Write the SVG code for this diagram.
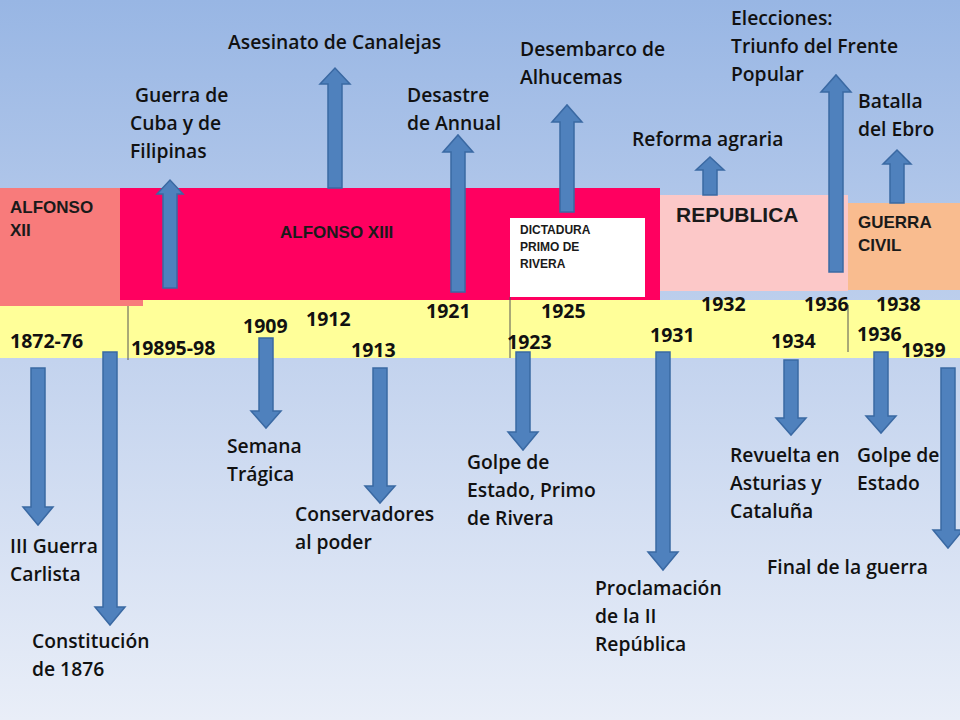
<svg xmlns="http://www.w3.org/2000/svg" width="960" height="720" viewBox="0 0 960 720">
<defs>
<linearGradient id="bg" x1="0" y1="0" x2="0" y2="1"><stop offset="0" stop-color="#98b6e4"/><stop offset="0.5" stop-color="#c3d3ee"/><stop offset="1" stop-color="#e9eef8"/></linearGradient>
</defs>
<style>
.ar{fill:#4f81bd;stroke:#3a69a3;stroke-width:1.5}
.ev{font-family:"Open Sans",sans-serif;font-size:19.3px;font-weight:600;fill:#111}
.yr{font-family:"Open Sans",sans-serif;font-size:19.5px;font-weight:700;fill:#111}
.bd{font-family:"Liberation Sans",Arial,sans-serif;font-weight:700;fill:#1a1a1a}
.ln{stroke:#555;stroke-width:1}
</style>
<rect width="960" height="720" fill="url(#bg)"/>
<g id="bands">
<rect x="0" y="300" width="960" height="58" fill="#ffff99"/>
<rect x="0" y="188" width="143" height="118" fill="#f87b7b"/>
<rect x="120" y="188" width="540" height="112" fill="#ff0060"/>
<rect x="510" y="218" width="135" height="79" fill="#ffffff"/>
<rect x="660" y="195" width="188" height="96" fill="#fcc8c8"/>
<rect x="848" y="203" width="112" height="87" fill="#f9bc8f"/>
<line class="ln" x1="128" y1="306" x2="128" y2="360"/>
<line class="ln" x1="510" y1="297" x2="510" y2="358"/>
<line class="ln" x1="848" y1="305" x2="848" y2="352"/>
<text class="bd" x="10" y="213" font-size="17">ALFONSO</text>
<text class="bd" x="10" y="236" font-size="17">XII</text>
<text class="bd" x="280" y="238" font-size="17">ALFONSO  XIII</text>
<text class="bd" x="520" y="234" font-size="12">DICTADURA</text>
<text class="bd" x="520" y="251" font-size="12">PRIMO DE</text>
<text class="bd" x="520" y="268" font-size="12">RIVERA</text>
<text class="bd" x="676" y="222" font-size="21">REPUBLICA</text>
<text class="bd" x="858" y="228" font-size="17">GUERRA</text>
<text class="bd" x="858" y="251" font-size="17">CIVIL</text>
</g>
<g id="years">
<text class="yr" x="10" y="348">1872-76</text>
<text class="yr" x="131" y="355">19895-98</text>
<text class="yr" x="243" y="333">1909</text>
<text class="yr" x="306" y="326">1912</text>
<text class="yr" x="351" y="357">1913</text>
<text class="yr" x="426" y="318">1921</text>
<text class="yr" x="507" y="349">1923</text>
<text class="yr" x="541" y="318">1925</text>
<text class="yr" x="650" y="342">1931</text>
<text class="yr" x="701" y="311">1932</text>
<text class="yr" x="771" y="348">1934</text>
<text class="yr" x="804" y="311">1936</text>
<text class="yr" x="876" y="311">1938</text>
<text class="yr" x="857" y="341">1936</text>
<text class="yr" x="901" y="357">1939</text>
</g>
<g id="connectors">
<polygon class="ar" points="163,288 163,194 157,194 170,180 183,194 177,194 177,288"/>
<polygon class="ar" points="328,188 328,84 320,84 335,68 350,84 342,84 342,188"/>
<polygon class="ar" points="451,292 451,152 443,152 458,135 473,152 465,152 465,292"/>
<polygon class="ar" points="560,212 560,122 552,122 567,105 582,122 574,122 574,212"/>
<polygon class="ar" points="703,195 703,170 696,170 710,157 724,170 717,170 717,195"/>
<polygon class="ar" points="829,272 829,92 821,92 836,75 851,92 843,92 843,272"/>
<polygon class="ar" points="890,203 890,164 883,164 897,150 911,164 904,164 904,203"/>
<polygon class="ar" points="31,368 31,507 23,507 38,525 53,507 45,507 45,368"/>
<polygon class="ar" points="103,352 103,607 95,607 110,625 125,607 117,607 117,352"/>
<polygon class="ar" points="259,338 259,411 251,411 266,428 281,411 273,411 273,338"/>
<polygon class="ar" points="373,368 373,486 365,486 380,503 395,486 387,486 387,368"/>
<polygon class="ar" points="516,352 516,432 508,432 523,450 538,432 530,432 530,352"/>
<polygon class="ar" points="656,352 656,552 648,552 663,570 678,552 670,552 670,352"/>
<polygon class="ar" points="784,360 784,418 776,418 791,435 806,418 798,418 798,360"/>
<polygon class="ar" points="874,352 874,416 866,416 881,433 896,416 888,416 888,352"/>
<polygon class="ar" points="941,368 941,530 933,530 948,548 963,530 955,530 955,368"/>
</g>
<g id="labels">
<text class="ev" x="228" y="49">Asesinato de Canalejas</text>
<text class="ev" x="135" y="102">Guerra de</text>
<text class="ev" x="130" y="130">Cuba y de</text>
<text class="ev" x="130" y="158">Filipinas</text>
<text class="ev" x="407" y="102">Desastre</text>
<text class="ev" x="407" y="130">de Annual</text>
<text class="ev" x="520" y="56">Desembarco de</text>
<text class="ev" x="520" y="84">Alhucemas</text>
<text class="ev" x="632" y="146">Reforma agraria</text>
<text class="ev" x="731" y="25">Elecciones:</text>
<text class="ev" x="731" y="53">Triunfo del Frente</text>
<text class="ev" x="731" y="81">Popular</text>
<text class="ev" x="858" y="108">Batalla</text>
<text class="ev" x="858" y="136">del Ebro</text>
<text class="ev" x="10" y="553">III Guerra</text>
<text class="ev" x="10" y="581">Carlista</text>
<text class="ev" x="32" y="648">Constitución</text>
<text class="ev" x="32" y="676">de 1876</text>
<text class="ev" x="227" y="453">Semana</text>
<text class="ev" x="227" y="481">Trágica</text>
<text class="ev" x="295" y="521">Conservadores</text>
<text class="ev" x="295" y="549">al poder</text>
<text class="ev" x="467" y="469">Golpe de</text>
<text class="ev" x="467" y="497">Estado, Primo</text>
<text class="ev" x="467" y="525">de Rivera</text>
<text class="ev" x="595" y="595">Proclamación</text>
<text class="ev" x="595" y="623">de la II</text>
<text class="ev" x="595" y="651">República</text>
<text class="ev" x="730" y="462">Revuelta en</text>
<text class="ev" x="730" y="490">Asturias y</text>
<text class="ev" x="730" y="518">Cataluña</text>
<text class="ev" x="857" y="462">Golpe de</text>
<text class="ev" x="857" y="490">Estado</text>
<text class="ev" x="767" y="574">Final de la guerra</text>
</g>
</svg>
